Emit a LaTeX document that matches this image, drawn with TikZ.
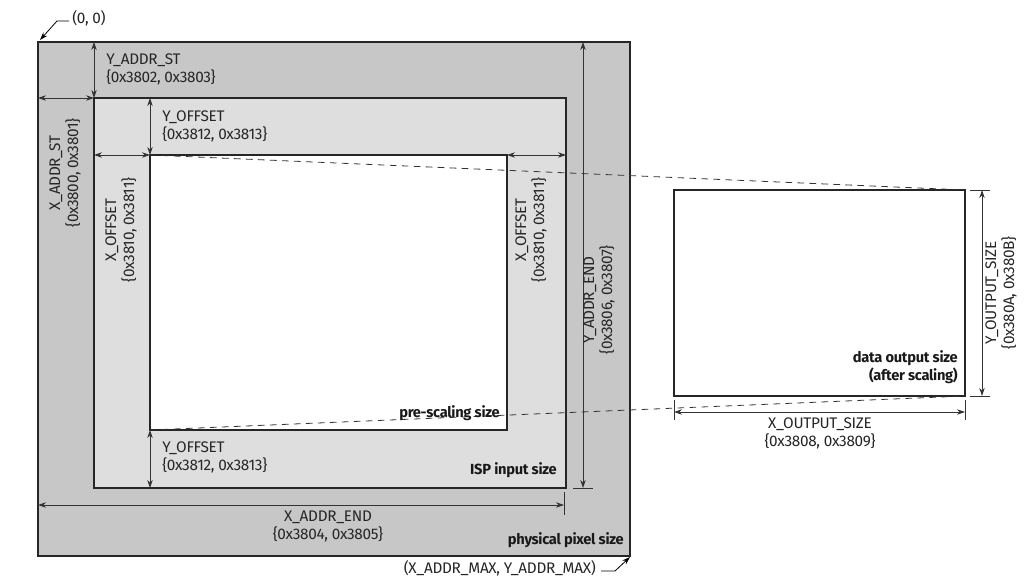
\documentclass[tikz,border=0pt]{standalone}
\usepackage{fontspec}
\setmainfont{Fira Sans}
\usetikzlibrary{arrows.meta}
\begin{document}
\begin{tikzpicture}[x=0.75pt,y=-0.75pt,
  box/.style={draw=black!85,line width=1.1pt},
  dim/.style={draw=black!80,line width=0.6pt,{Stealth[length=6pt,width=4pt]}-{Stealth[length=6pt,width=4pt]}},
  lab/.style={font=\fontsize{11.5}{13.5}\selectfont\addfontfeature{LetterSpace=-2},text=black!85,inner sep=0pt,align=left},
  blab/.style={font=\fontsize{11}{13.5}\selectfont\bfseries\addfontfeature{LetterSpace=-2},text=black!90,inner sep=0pt},
  dsh/.style={draw=black!80,dashed,dash pattern=on 5pt off 4pt,line width=0.6pt},
  tick/.style={draw=black!80,line width=0.6pt}]
\useasboundingbox (0,0) rectangle (1029,581);
\fill[white] (0,0) rectangle (1029,581);
% rectangles
\coordinate (o1) at (38,42); \coordinate (o2) at (630,556);
\coordinate (m1) at (94,98); \coordinate (m2) at (566,488);
\coordinate (i1) at (150,155); \coordinate (i2) at (507,430);
\coordinate (q1) at (674,190); \coordinate (q2) at (965,396);
\draw[box,fill=black!22] (o1) rectangle (o2);
\draw[box,fill=black!13] (m1) rectangle (m2);
\draw[box,fill=white] (i1) rectangle (i2);
\draw[box,fill=white] (q1) rectangle (q2);
% dashed projection lines
\draw[dsh] (i1) -- (q2 |- q1);
\draw[dsh] (i1 |- i2) -- (q2);
% dimension coordinates
\coordinate (ya1) at (94,42); \coordinate (ya2) at (94,98);
\coordinate (xa1) at (38,98); \coordinate (xa2) at (94,98);
\coordinate (yo1) at (150,98); \coordinate (yo2) at (150,155);
\coordinate (xo1) at (94,155); \coordinate (xo2) at (150,155);
\coordinate (xr1) at (507,155); \coordinate (xr2) at (566,155);
\coordinate (yb1) at (150,430); \coordinate (yb2) at (150,488);
\coordinate (ye1) at (583,42); \coordinate (ye2) at (583,488);
\coordinate (xe1) at (38,505); \coordinate (xe2) at (564,505);
\coordinate (xs1) at (674,412); \coordinate (xs2) at (965,412);
\coordinate (ys1) at (982,190); \coordinate (ys2) at (982,396);
\draw[dim] (ya1) -- (ya2);
\draw[dim] (xa1) -- (xa2);
\draw[dim] (yo1) -- (yo2);
\draw[dim] (xo1) -- (xo2);
\draw[dim] (xr1) -- (xr2);
\draw[dim] (yb1) -- (yb2);
\draw[dim] (ye1) -- (ye2);
\draw[dim] (xe1) -- (xe2);
\draw[dim] (xs1) -- (xs2);
\draw[dim] (ys1) -- (ys2);
% ticks
\draw[tick] (573,488) -- (593,488);
\draw[tick] (564,492) -- (564,515);
\draw[tick] (674,400) -- (674,420);
\draw[tick] (965,400) -- (965,420);
\draw[tick] (970,190) -- (990,190);
\draw[tick] (970,396) -- (990,396);
% labels
\node[lab,anchor=west] (l00) at (72,18) {(0, 0)};
\coordinate (c00) at (40,40);
\draw[line width=0.6pt,-{Stealth[length=6pt,width=4pt]}] (l00.west) ++(-3,3) -- ++(-12,0) -- (c00);
\node[lab,anchor=west] (lya) at (106,69) {Y\_ADDR\_ST\\\{0x3802, 0x3803\}};
\node[lab,anchor=west] (lyo) at (162,126) {Y\_OFFSET\\\{0x3812, 0x3813\}};
\node[lab,anchor=west] (lyb) at (162,457) {Y\_OFFSET\\\{0x3812, 0x3813\}};
\node[lab,rotate=90,align=center] (lxa) at (65,173) {X\_ADDR\_ST\\\{0x3800, 0x3801\}};
\node[lab,rotate=90,align=center] (lxo) at (121,230) {X\_OFFSET\\\{0x3810, 0x3811\}};
\node[lab,rotate=90,align=center] (lxr) at (531,230) {X\_OFFSET\\\{0x3810, 0x3811\}};
\node[lab,rotate=90,align=center] (lye) at (599,300) {Y\_ADDR\_END\\\{0x3806, 0x3807\}};
\node[lab,rotate=90,align=center] (lys) at (1001,293) {Y\_OUTPUT\_SIZE\\\{0x380A, 0x380B\}};
\node[lab,align=center] (lxe) at (328,526) {X\_ADDR\_END\\\{0x3804, 0x3805\}};
\node[lab,align=center] (lxs) at (820,433) {X\_OUTPUT\_SIZE\\\{0x3808, 0x3809\}};
\node[blab,anchor=east] (lisp) at (557,470) {ISP input size};
\node[blab,anchor=east] (lpre) at (500,413) {pre-scaling size};
\node[blab,anchor=east] (lphy) at (624,540) {physical pixel size};
\node[blab,anchor=east,align=right] (ldat) at (958,367) {data output size\\(after scaling)};
\node[lab,anchor=east] (lmax) at (596,568) {(X\_ADDR\_MAX, Y\_ADDR\_MAX)};
\coordinate (cmax) at (630,557);
\draw[line width=0.6pt,-{Stealth[length=6pt,width=4pt]}] (lmax.east) ++(5,3) -- ++(14,0) -- (cmax);
\end{tikzpicture}
\end{document}
